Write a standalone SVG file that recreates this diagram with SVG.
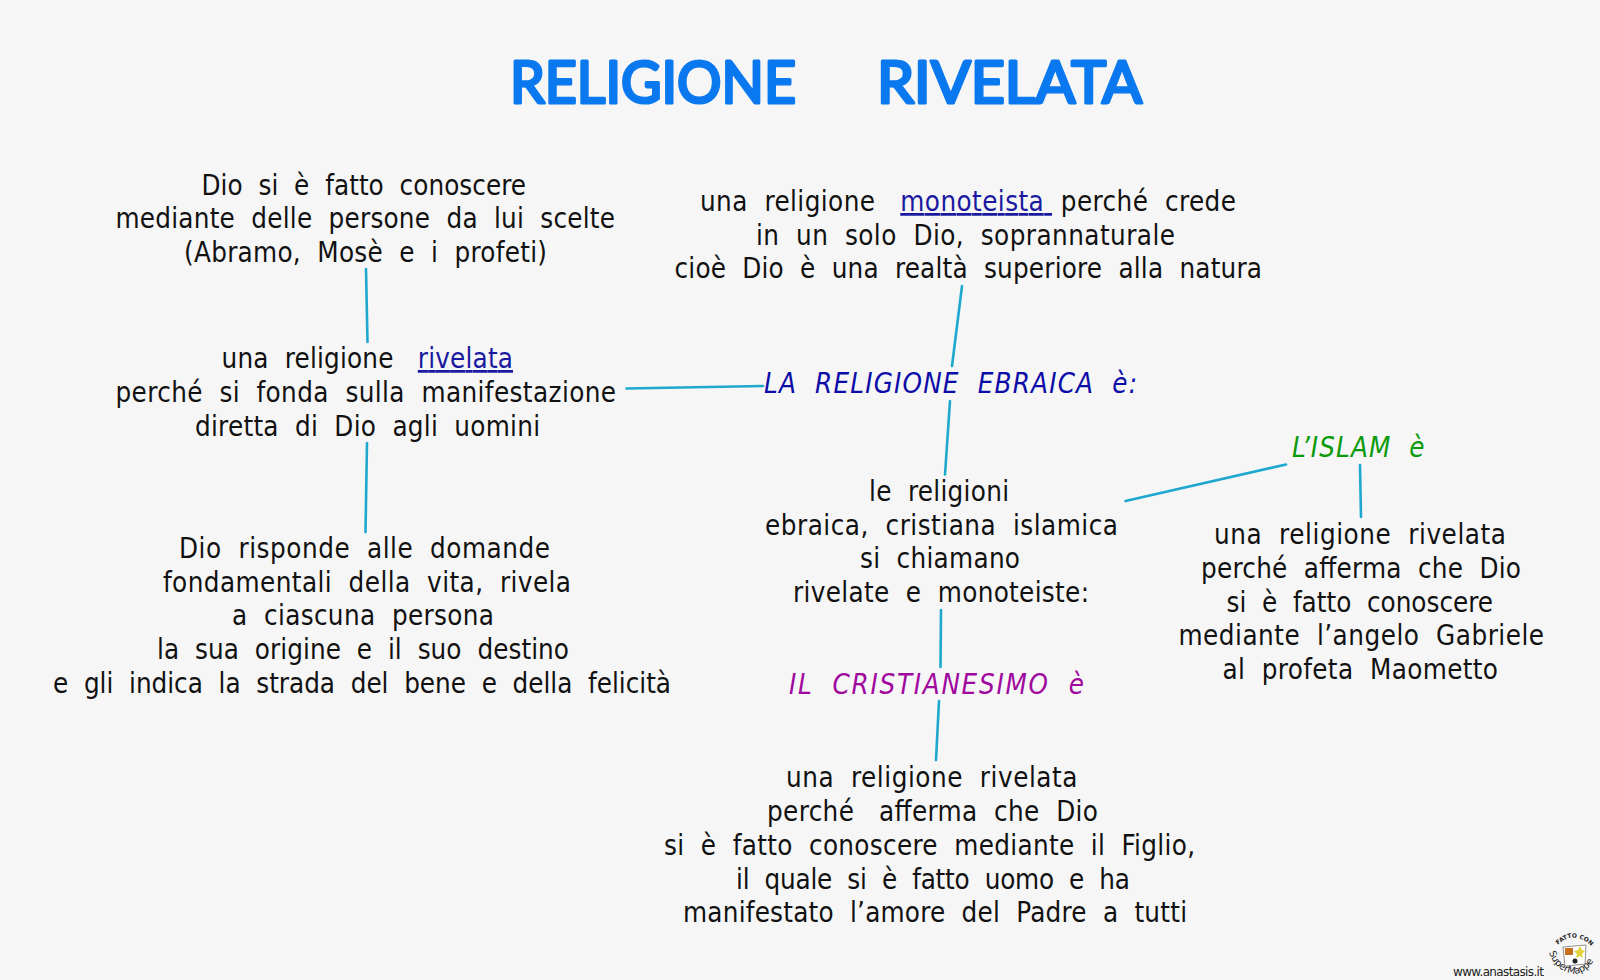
<svg xmlns="http://www.w3.org/2000/svg" width="1600" height="980" viewBox="0 0 1600 980">
<style>
text{white-space:pre;font-family:"DejaVu Sans Condensed","DejaVu Sans",sans-serif;font-size:27.5px;fill:#111;}
.i{font-style:italic}
.link{fill:#1a1aa0;text-decoration:underline;text-decoration-skip-ink:none}
.title{font-family:"Lato","Open Sans",sans-serif;font-weight:400;font-size:59px;fill:#0a78ee;stroke:#0a78ee;stroke-width:3.200px;stroke-linejoin:round}
#connectors line{stroke:#1ea8cf;stroke-width:2.600;stroke-linecap:round}
</style>
<rect width="1600" height="980" fill="#f6f6f6"/>
<g id="title">
<text class="title" x="510" y="103" textLength="286" lengthAdjust="spacingAndGlyphs">RELIGIONE</text>
<text class="title" x="877" y="103" textLength="265" lengthAdjust="spacingAndGlyphs">RIVELATA</text>
</g>
<g id="connectors">
<line x1="366" y1="269" x2="367.500" y2="342"/>
<line x1="367" y1="443" x2="365.500" y2="532"/>
<line x1="626.500" y1="388.500" x2="763" y2="386"/>
<line x1="962" y1="286" x2="952" y2="366"/>
<line x1="950" y1="401" x2="945" y2="474.500"/>
<line x1="1125.500" y1="501" x2="1286" y2="464.500"/>
<line x1="1360" y1="465" x2="1361" y2="517"/>
<line x1="941" y1="610" x2="940.500" y2="667"/>
<line x1="939" y1="701" x2="936" y2="760"/>
</g>
<g id="node-persone">
<text x="201.500" y="194.500" textLength="324.500">Dio  si  è  fatto  conoscere</text>
<text x="115.500" y="228" textLength="499.500">mediante  delle  persone  da  lui  scelte</text>
<text x="184" y="261.500" textLength="363">(Abramo,  Mosè  e  i  profeti)</text>
</g>
<g id="node-monoteista">
<text x="700" y="211" textLength="536">una  religione   <tspan class="link">monoteista </tspan> perché  crede</text>
<text x="756" y="244.500" textLength="419">in  un  solo  Dio,  soprannaturale</text>
<text x="674.500" y="278" textLength="587.500">cioè  Dio  è  una  realtà  superiore  alla  natura</text>
</g>
<g id="node-rivelata">
<text x="221.500" y="368" textLength="291.500">una  religione   <tspan class="link">rivelata</tspan></text>
<text x="115.500" y="402" textLength="500.500">perché  si  fonda  sulla  manifestazione</text>
<text x="195" y="436" textLength="345">diretta  di  Dio  agli  uomini</text>
</g>
<g id="node-ebraica">
<text class="i" x="764" y="392.500" textLength="373" style="fill:#0c0ca8">LA  RELIGIONE  EBRAICA  è:</text>
</g>
<g id="node-risponde">
<text x="179" y="557.500" textLength="371">Dio  risponde  alle  domande</text>
<text x="163" y="591.500" textLength="408">fondamentali  della  vita,  rivela</text>
<text x="232" y="625" textLength="262">a  ciascuna  persona</text>
<text x="157" y="658.500" textLength="412">la  sua  origine  e  il  suo  destino</text>
<text x="53" y="692.500" textLength="618">e  gli  indica  la  strada  del  bene  e  della  felicità</text>
</g>
<g id="node-religioni">
<text x="869" y="500.500" textLength="140">le  religioni</text>
<text x="765" y="534.500" textLength="353">ebraica,  cristiana  islamica</text>
<text x="860" y="568" textLength="160">si  chiamano</text>
<text x="793" y="601.500" textLength="296">rivelate  e  monoteiste:</text>
</g>
<g id="node-islam">
<text class="i" x="1292" y="456.500" textLength="132.500" style="fill:#0a9a0a">L’ISLAM  è</text>
</g>
<g id="node-islam-testo">
<text x="1214" y="544" textLength="292">una  religione  rivelata</text>
<text x="1201" y="578" textLength="320">perché  afferma  che  Dio</text>
<text x="1226.500" y="611.500" textLength="266.500">si  è  fatto  conoscere</text>
<text x="1178.500" y="645" textLength="365.500">mediante  l’angelo  Gabriele</text>
<text x="1222.500" y="679" textLength="275.500">al  profeta  Maometto</text>
</g>
<g id="node-cristianesimo">
<text class="i" x="789" y="693.500" textLength="295" style="fill:#a0089e">IL  CRISTIANESIMO  è</text>
</g>
<g id="node-cristianesimo-testo">
<text x="786" y="787" textLength="291.500">una  religione  rivelata</text>
<text x="767" y="821" textLength="331">perché   afferma  che  Dio</text>
<text x="664" y="854.500" textLength="531">si  è  fatto  conoscere  mediante  il  Figlio,</text>
<text x="736" y="888.500" textLength="394">il  quale  si  è  fatto  uomo  e  ha</text>
<text x="683" y="922" textLength="504">manifestato  l’amore  del  Padre  a  tutti</text>
</g>
<g id="logo">
<text x="1453" y="976" style="font-family:'DejaVu Sans',sans-serif;font-size:12px;fill:#222" textLength="91">www.anastasis.it</text>
<defs>
<path id="arcTop" d="M1558 945 Q1573 930 1590 945"/>
<path id="arcBot" d="M1549 952 Q1555 971 1574 974 Q1590 973 1597 953"/>
</defs>
<text style="font-family:'DejaVu Sans',sans-serif;font-size:6px;font-weight:700;fill:#222"><textPath href="#arcTop">FATTO CON</textPath></text>
<text style="font-family:'DejaVu Sans',sans-serif;font-size:9.500px;fill:#222"><textPath href="#arcBot">SuperMappe</textPath></text>
<path d="M1563 947 L1586 945 L1585 964 L1565 966 Z" fill="#fff" stroke="#777" stroke-width="0.800"/>
<rect x="1565" y="948" width="8" height="7" fill="#c8701e"/>
<polygon points="1580,946 1582,950 1585,951 1582,954 1583,958 1580,956 1576,958 1577,954 1574,951 1578,950" fill="#e3d23a"/>
<circle cx="1575" cy="961" r="2.500" fill="#222"/>
</g>
</svg>
